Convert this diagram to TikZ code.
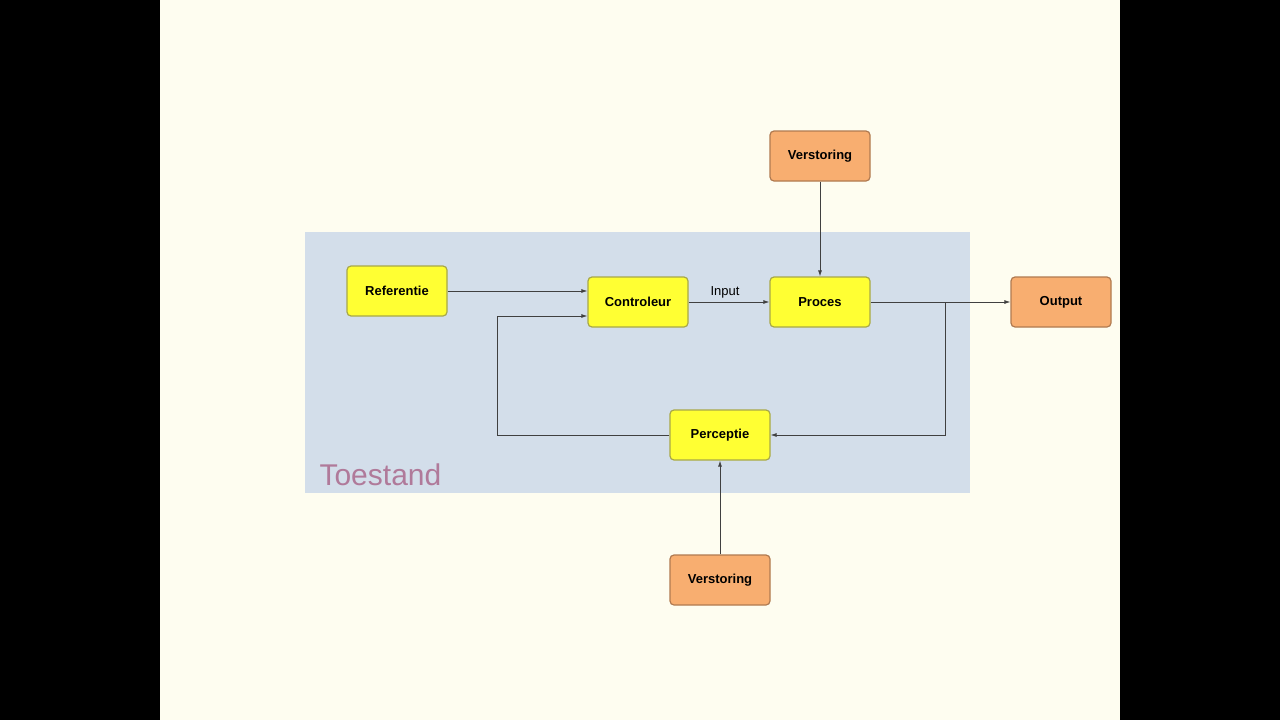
\documentclass[tikz,border=0pt]{standalone}
\usepackage{fontspec}
\setmainfont{Liberation Sans}
\usetikzlibrary{arrows.meta}
\definecolor{bgc}{HTML}{FEFDF0}
\definecolor{boxblue}{HTML}{D3DEEA}
\definecolor{yel}{HTML}{FFFF33}
\definecolor{yelb}{HTML}{A8A848}
\definecolor{ora}{HTML}{F8AE70}
\definecolor{orab}{HTML}{B07A50}
\definecolor{lbl}{HTML}{B07A9A}
\tikzset{
 yb/.style={draw=yelb,fill=yel,line width=1.2pt,rounded corners=4pt,minimum width=100pt,minimum height=50pt,font=\bfseries\fontsize{13}{15}\selectfont},
 ob/.style={yb,draw=orab,fill=ora},
 conn/.style={draw=black!75,line width=0.8pt,-{Latex[length=6pt,width=4pt]}}
}
\begin{document}
\begin{tikzpicture}[x=1pt,y=-1pt]
\useasboundingbox (0,0) rectangle (1280,720);
\fill[black] (0,0) rectangle (1280,720);
\fill[bgc] (160,0) rectangle (1120,720);
\fill[boxblue] (305,232) rectangle (970,493);
\node[text=lbl,font=\fontsize{30}{34}\selectfont,anchor=west] (t) at (316,475) {Toestand};
\node[yb] (ref) at (397,291) {Referentie};
\node[yb] (con) at (638,302) {Controleur};
\node[yb] (pro) at (820,302) {Proces};
\node[yb] (per) at (720,435) {Perceptie};
\node[ob] (v1) at (820,156) {Verstoring};
\node[ob] (out) at (1061,302) {Output};
\node[ob] (v2) at (720,580) {Verstoring};
\coordinate (b) at (945,302);
\draw[conn] (ref.east) -- (ref.east -| con.west);
\draw[conn] (con) -- node[above,font=\fontsize{13}{15}\selectfont,pos=0.45]{Input} (pro);
\draw[conn] (pro) -- (out);
\draw[conn] (b) |- (per.east);
\draw[conn] (per.west) -| (497,316) -- (con.west |- 0,316);
\draw[conn] (v1) -- (pro);
\draw[conn] (v2) -- (per);
\end{tikzpicture}
\end{document}
